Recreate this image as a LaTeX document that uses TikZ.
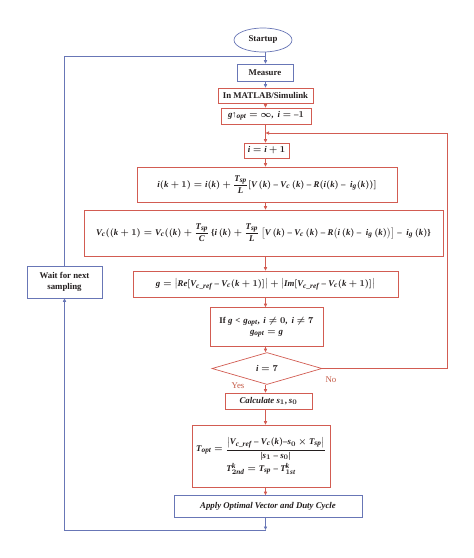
\documentclass[tikz,border=0pt]{standalone}
\usepackage{amsmath}
\usepackage{fontspec}
\setmainfont{Liberation Serif}
\usepackage[italic]{mathastext}
\usetikzlibrary{shapes.geometric,arrows.meta}
\definecolor{boxred}{RGB}{210,92,82}
\definecolor{boxblue}{RGB}{104,118,182}
\definecolor{txt}{RGB}{35,30,30}
\definecolor{lblred}{RGB}{196,90,70}
\tikzset{
  box/.style={rectangle, line width=0.7pt, fill=white, inner sep=1pt, align=center, text=txt},
  redbox/.style={box, draw=boxred},
  bluebox/.style={box, draw=boxblue},
  rarr/.style={draw=boxred, line width=0.7pt, -{Triangle[length=3.5pt,width=3.2pt]}},
  barr/.style={draw=boxblue, line width=0.7pt, -{Triangle[length=3.5pt,width=3.2pt]}},
  rline/.style={draw=boxred, line width=0.7pt},
  bline/.style={draw=boxblue, line width=0.7pt},
  lbl/.style={text=lblred, font=\fontsize{8.8}{10}\selectfont}
}
\begin{document}
\begin{tikzpicture}[x=1pt,y=-1pt,font=\fontsize{8.8}{10.4}\selectfont\bfseries\boldmath]
\useasboundingbox (0,0) rectangle (474,558);
\coordinate (col) at (265.5,0);
% nodes
\node[ellipse, draw=boxblue, line width=0.7pt, fill=white, text=txt, minimum width=58pt, minimum height=24pt, inner sep=0pt] (start) at (263,40) {Startup};
\node[bluebox, minimum width=56pt, minimum height=17pt] (measure) at (265,72.5) {Measure};
\node[redbox, minimum width=95pt, minimum height=15pt] (matlab) at (265.5,95.5) {In MATLAB/Simulink};
\node[redbox, minimum width=90pt, minimum height=16pt] (init) at (266,116) {$g$\kern-0.3pt↑$_{opt} = \infty,\ i = -1$};
\node[redbox, minimum width=45pt, minimum height=15pt] (incr) at (266.5,150.5) {$i = i + 1$};
\node[redbox, minimum width=260pt, minimum height=35pt] (eqi) at (267,184.5)
  {$i(k+1) = i(k) + \dfrac{T_{sp}}{L}[V\,(k) - V_c\,(k) - R(i(k) - \ i_g(k))]$};
\node[redbox, minimum width=359pt, minimum height=46pt] (eqv) at (263.5,233)
  {$V_c((k+1) = V_c((k) + \dfrac{T_{sp}}{C}\,\{i\,(k) + \dfrac{T_{sp}}{L}\,\bigl[V\,(k) - V_c\,(k) - R\bigl(i\,(k) - \ i_g\,(k)\bigr)\bigr] - \ i_g\,(k)\}$};
\node[redbox, minimum width=265pt, minimum height=26pt] (gbox) at (265.5,284)
  {$g = \bigl|Re[V_{c\_ref} - V_c(k+1)]\bigr| + \bigl|Im[V_{c\_ref} - V_c(k+1)]\bigr|$};
\node[redbox, minimum width=113pt, minimum height=39pt] (ifbox) at (266.5,327)
  {If $g < g_{opt},\, i \neq 0,\ i \neq 7$\\[1pt] $g_{opt} = g$};
\node[diamond, draw=boxred, line width=0.7pt, fill=white, text=txt, minimum width=110pt, minimum height=32pt, aspect=3.4, inner sep=0pt] (dia) at (267,368.5) {$i = 7$};
\node[redbox, minimum width=87pt, minimum height=16pt] (calc) at (268.5,401) {\itshape Calculate $s_1, s_0$};
\node[redbox, minimum width=138pt, minimum height=62pt] (topt) at (261,456)
  {$T_{opt} = \dfrac{\bigl|V_{c\_ref} - V_c(k){-}s_0 \times T_{sp}\bigr|}{|s_1 - s_0|}$\\[2pt] $T^{k}_{2nd} = T_{sp} - T^{k}_{1st}$};
\node[bluebox, minimum width=188pt, minimum height=22pt] (apply) at (268,506.5) {\itshape Apply Optimal Vector and Duty Cycle};
\node[bluebox, minimum width=75pt, minimum height=32pt] (wait) at (64.5,282) {Wait for next\\sampling};
% labels
\node[lbl] (yes) at (238,386) {Yes};
\node[lbl] (no) at (331,380) {No};
% coordinates
\coordinate (topj) at (265.5,56);
\coordinate (loopj) at (265.5,133);
\coordinate (rloop) at (447,133);
\coordinate (botj) at (265.5,530);
% main column connectors
\draw[barr] (start.south -| col) -- (measure.north -| col);
\draw[barr] (measure.south -| col) -- (matlab.north -| col);
\draw[rarr] (matlab.south -| col) -- (init.north -| col);
\draw[rarr] (init.south -| col) -- (incr.north -| col);
\draw[rarr] (incr.south -| col) -- (eqi.north -| col);
\draw[rarr] (eqi.south -| col) -- (eqv.north -| col);
\draw[rarr] (eqv.south -| col) -- (gbox.north -| col);
\draw[rarr] (gbox.south -| col) -- (ifbox.north -| col);
\draw[rarr] (ifbox.south -| col) -- (dia.north -| col);
\draw[rarr] (dia.south -| col) -- (calc.north -| col);
\draw[rarr] (calc.south -| col) -- (topt.north -| col);
\draw[rarr] (topt.south -| col) -- (apply.north -| col);
% loop back (No)
\draw[rline] (dia.east) -- (dia.east -| rloop) -- (rloop);
\draw[rarr] (rloop) -- (loopj);
% outer loop
\draw[barr] (apply.south -| col) -- (botj);
\draw[barr] (botj) -| (wait.south);
\draw[bline] (wait.north) |- (topj);
\end{tikzpicture}
\end{document}
